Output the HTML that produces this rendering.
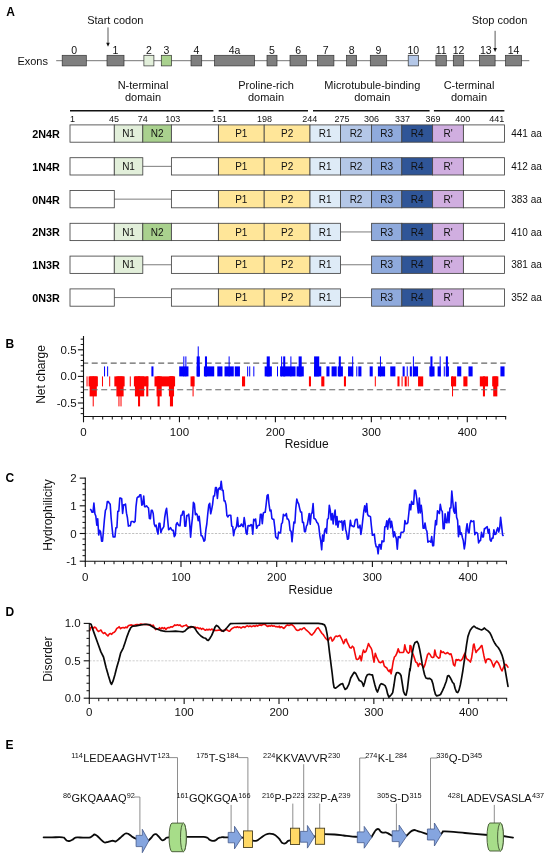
<!DOCTYPE html>
<html><head><meta charset="utf-8"><title>Tau isoforms figure</title>
<style>html,body{margin:0;padding:0;background:#fff}svg{display:block}text{font-family:"Liberation Sans",Arial,sans-serif}</style>
</head><body>
<svg width="550" height="858" viewBox="0 0 550 858">
<rect width="550" height="858" fill="#fff"/>
<text x="6.20" y="15.60" font-size="12" text-anchor="start" font-weight="bold" fill="#000" >A</text>
<text x="115.30" y="24.00" font-size="11" text-anchor="middle" font-weight="normal" fill="#111" >Start codon</text>
<text x="499.60" y="24.00" font-size="11" text-anchor="middle" font-weight="normal" fill="#111" >Stop codon</text>
<text x="17.40" y="64.60" font-size="11" text-anchor="start" font-weight="normal" fill="#111" >Exons</text>
<line x1="56.20" y1="60.70" x2="529.30" y2="60.70" stroke="#666" stroke-width="0.9" />
<rect x="62.20" y="55.30" width="24.10" height="10.60" fill="#7f7f7f" stroke="#333" stroke-width="0.7" />
<text x="74.25" y="53.80" font-size="10.5" text-anchor="middle" font-weight="normal" fill="#111" >0</text>
<rect x="107.00" y="55.30" width="17.00" height="10.60" fill="#7f7f7f" stroke="#333" stroke-width="0.7" />
<text x="115.50" y="53.80" font-size="10.5" text-anchor="middle" font-weight="normal" fill="#111" >1</text>
<rect x="143.90" y="55.30" width="10.00" height="10.60" fill="#e2efda" stroke="#333" stroke-width="0.7" />
<text x="148.90" y="53.80" font-size="10.5" text-anchor="middle" font-weight="normal" fill="#111" >2</text>
<rect x="161.30" y="55.30" width="10.30" height="10.60" fill="#a9d18e" stroke="#333" stroke-width="0.7" />
<text x="166.45" y="53.80" font-size="10.5" text-anchor="middle" font-weight="normal" fill="#111" >3</text>
<rect x="191.00" y="55.30" width="10.70" height="10.60" fill="#7f7f7f" stroke="#333" stroke-width="0.7" />
<text x="196.35" y="53.80" font-size="10.5" text-anchor="middle" font-weight="normal" fill="#111" >4</text>
<rect x="214.50" y="55.30" width="40.10" height="10.60" fill="#7f7f7f" stroke="#333" stroke-width="0.7" />
<text x="234.55" y="53.80" font-size="10.5" text-anchor="middle" font-weight="normal" fill="#111" >4a</text>
<rect x="267.00" y="55.30" width="10.00" height="10.60" fill="#7f7f7f" stroke="#333" stroke-width="0.7" />
<text x="272.00" y="53.80" font-size="10.5" text-anchor="middle" font-weight="normal" fill="#111" >5</text>
<rect x="290.00" y="55.30" width="16.50" height="10.60" fill="#7f7f7f" stroke="#333" stroke-width="0.7" />
<text x="298.25" y="53.80" font-size="10.5" text-anchor="middle" font-weight="normal" fill="#111" >6</text>
<rect x="317.50" y="55.30" width="16.40" height="10.60" fill="#7f7f7f" stroke="#333" stroke-width="0.7" />
<text x="325.70" y="53.80" font-size="10.5" text-anchor="middle" font-weight="normal" fill="#111" >7</text>
<rect x="346.60" y="55.30" width="10.00" height="10.60" fill="#7f7f7f" stroke="#333" stroke-width="0.7" />
<text x="351.60" y="53.80" font-size="10.5" text-anchor="middle" font-weight="normal" fill="#111" >8</text>
<rect x="370.30" y="55.30" width="16.40" height="10.60" fill="#7f7f7f" stroke="#333" stroke-width="0.7" />
<text x="378.50" y="53.80" font-size="10.5" text-anchor="middle" font-weight="normal" fill="#111" >9</text>
<rect x="408.20" y="55.30" width="10.30" height="10.60" fill="#b4c7e7" stroke="#333" stroke-width="0.7" />
<text x="413.35" y="53.80" font-size="10.5" text-anchor="middle" font-weight="normal" fill="#111" >10</text>
<rect x="435.90" y="55.30" width="10.40" height="10.60" fill="#7f7f7f" stroke="#333" stroke-width="0.7" />
<text x="441.10" y="53.80" font-size="10.5" text-anchor="middle" font-weight="normal" fill="#111" >11</text>
<rect x="453.30" y="55.30" width="10.40" height="10.60" fill="#7f7f7f" stroke="#333" stroke-width="0.7" />
<text x="458.50" y="53.80" font-size="10.5" text-anchor="middle" font-weight="normal" fill="#111" >12</text>
<rect x="479.40" y="55.30" width="15.70" height="10.60" fill="#7f7f7f" stroke="#333" stroke-width="0.7" />
<text x="485.75" y="53.80" font-size="10.5" text-anchor="middle" font-weight="normal" fill="#111" >13</text>
<rect x="505.50" y="55.30" width="16.10" height="10.60" fill="#7f7f7f" stroke="#333" stroke-width="0.7" />
<text x="513.55" y="53.80" font-size="10.5" text-anchor="middle" font-weight="normal" fill="#111" >14</text>
<line x1="108.00" y1="27.40" x2="108.00" y2="44.80" stroke="#111" stroke-width="0.7" />
<path d="M106.20 42.80 L108.00 46.80 L109.80 42.80 Z" fill="#111"/>
<line x1="495.10" y1="30.80" x2="495.10" y2="49.90" stroke="#111" stroke-width="0.7" />
<path d="M493.30 47.90 L495.10 51.90 L496.90 47.90 Z" fill="#111"/>
<text x="143.00" y="88.70" font-size="11" text-anchor="middle" font-weight="normal" fill="#111" >N-terminal</text>
<text x="143.00" y="101.40" font-size="11" text-anchor="middle" font-weight="normal" fill="#111" >domain</text>
<text x="266.00" y="88.70" font-size="11" text-anchor="middle" font-weight="normal" fill="#111" >Proline-rich</text>
<text x="266.00" y="101.40" font-size="11" text-anchor="middle" font-weight="normal" fill="#111" >domain</text>
<text x="372.30" y="88.70" font-size="11" text-anchor="middle" font-weight="normal" fill="#111" >Microtubule-binding</text>
<text x="372.30" y="101.40" font-size="11" text-anchor="middle" font-weight="normal" fill="#111" >domain</text>
<text x="469.00" y="88.70" font-size="11" text-anchor="middle" font-weight="normal" fill="#111" >C-terminal</text>
<text x="469.00" y="101.40" font-size="11" text-anchor="middle" font-weight="normal" fill="#111" >domain</text>
<line x1="70.00" y1="110.80" x2="213.40" y2="110.80" stroke="#111" stroke-width="1.6" />
<line x1="218.70" y1="110.80" x2="308.00" y2="110.80" stroke="#111" stroke-width="1.6" />
<line x1="313.00" y1="110.80" x2="429.60" y2="110.80" stroke="#111" stroke-width="1.6" />
<line x1="433.90" y1="110.80" x2="504.40" y2="110.80" stroke="#111" stroke-width="1.6" />
<text x="70.00" y="121.80" font-size="9" text-anchor="start" font-weight="normal" fill="#111" >1</text>
<text x="113.90" y="121.80" font-size="9" text-anchor="middle" font-weight="normal" fill="#111" >45</text>
<text x="142.70" y="121.80" font-size="9" text-anchor="middle" font-weight="normal" fill="#111" >74</text>
<text x="172.80" y="121.80" font-size="9" text-anchor="middle" font-weight="normal" fill="#111" >103</text>
<text x="219.50" y="121.80" font-size="9" text-anchor="middle" font-weight="normal" fill="#111" >151</text>
<text x="264.60" y="121.80" font-size="9" text-anchor="middle" font-weight="normal" fill="#111" >198</text>
<text x="309.70" y="121.80" font-size="9" text-anchor="middle" font-weight="normal" fill="#111" >244</text>
<text x="341.90" y="121.80" font-size="9" text-anchor="middle" font-weight="normal" fill="#111" >275</text>
<text x="371.60" y="121.80" font-size="9" text-anchor="middle" font-weight="normal" fill="#111" >306</text>
<text x="402.50" y="121.80" font-size="9" text-anchor="middle" font-weight="normal" fill="#111" >337</text>
<text x="432.90" y="121.80" font-size="9" text-anchor="middle" font-weight="normal" fill="#111" >369</text>
<text x="462.70" y="121.80" font-size="9" text-anchor="middle" font-weight="normal" fill="#111" >400</text>
<text x="504.30" y="121.80" font-size="9" text-anchor="end" font-weight="normal" fill="#111" >441</text>
<text x="32.30" y="137.90" font-size="10.8" text-anchor="start" font-weight="bold" fill="#000" >2N4R</text>
<text x="511.20" y="137.15" font-size="10" text-anchor="start" font-weight="normal" fill="#111" >441 aa</text>
<rect x="70.00" y="124.90" width="44.30" height="17.30" fill="#fff" stroke="#444" stroke-width="0.85" />
<rect x="114.30" y="124.90" width="28.50" height="17.30" fill="#e2efda" stroke="#444" stroke-width="0.85" />
<text x="128.55" y="137.15" font-size="10" text-anchor="middle" font-weight="normal" fill="#111" >N1</text>
<rect x="142.80" y="124.90" width="28.60" height="17.30" fill="#a9d18e" stroke="#444" stroke-width="0.85" />
<text x="157.10" y="137.15" font-size="10" text-anchor="middle" font-weight="normal" fill="#111" >N2</text>
<rect x="171.40" y="124.90" width="47.00" height="17.30" fill="#fff" stroke="#444" stroke-width="0.85" />
<rect x="218.40" y="124.90" width="45.80" height="17.30" fill="#ffe699" stroke="#444" stroke-width="0.85" />
<text x="241.30" y="137.15" font-size="10" text-anchor="middle" font-weight="normal" fill="#111" >P1</text>
<rect x="264.20" y="124.90" width="45.80" height="17.30" fill="#ffe699" stroke="#444" stroke-width="0.85" />
<text x="287.10" y="137.15" font-size="10" text-anchor="middle" font-weight="normal" fill="#111" >P2</text>
<rect x="310.00" y="124.90" width="30.50" height="17.30" fill="#deebf7" stroke="#444" stroke-width="0.85" />
<text x="325.25" y="137.15" font-size="10" text-anchor="middle" font-weight="normal" fill="#111" >R1</text>
<rect x="340.50" y="124.90" width="31.10" height="17.30" fill="#b4c7e7" stroke="#444" stroke-width="0.85" />
<text x="356.05" y="137.15" font-size="10" text-anchor="middle" font-weight="normal" fill="#111" >R2</text>
<rect x="371.60" y="124.90" width="30.20" height="17.30" fill="#8faadc" stroke="#444" stroke-width="0.85" />
<text x="386.70" y="137.15" font-size="10" text-anchor="middle" font-weight="normal" fill="#111" >R3</text>
<rect x="401.80" y="124.90" width="30.80" height="17.30" fill="#2f5597" stroke="#444" stroke-width="0.85" />
<text x="417.20" y="137.15" font-size="10" text-anchor="middle" font-weight="normal" fill="#111" >R4</text>
<rect x="432.60" y="124.90" width="30.80" height="17.30" fill="#d0aee0" stroke="#444" stroke-width="0.85" />
<text x="448.00" y="137.15" font-size="10" text-anchor="middle" font-weight="normal" fill="#111" >R'</text>
<rect x="463.40" y="124.90" width="41.10" height="17.30" fill="#fff" stroke="#444" stroke-width="0.85" />
<text x="32.30" y="170.70" font-size="10.8" text-anchor="start" font-weight="bold" fill="#000" >1N4R</text>
<text x="511.20" y="169.95" font-size="10" text-anchor="start" font-weight="normal" fill="#111" >412 aa</text>
<rect x="70.00" y="157.70" width="44.30" height="17.30" fill="#fff" stroke="#444" stroke-width="0.85" />
<rect x="114.30" y="157.70" width="28.50" height="17.30" fill="#e2efda" stroke="#444" stroke-width="0.85" />
<text x="128.55" y="169.95" font-size="10" text-anchor="middle" font-weight="normal" fill="#111" >N1</text>
<line x1="142.80" y1="166.35" x2="171.40" y2="166.35" stroke="#444" stroke-width="0.7" />
<rect x="171.40" y="157.70" width="47.00" height="17.30" fill="#fff" stroke="#444" stroke-width="0.85" />
<rect x="218.40" y="157.70" width="45.80" height="17.30" fill="#ffe699" stroke="#444" stroke-width="0.85" />
<text x="241.30" y="169.95" font-size="10" text-anchor="middle" font-weight="normal" fill="#111" >P1</text>
<rect x="264.20" y="157.70" width="45.80" height="17.30" fill="#ffe699" stroke="#444" stroke-width="0.85" />
<text x="287.10" y="169.95" font-size="10" text-anchor="middle" font-weight="normal" fill="#111" >P2</text>
<rect x="310.00" y="157.70" width="30.50" height="17.30" fill="#deebf7" stroke="#444" stroke-width="0.85" />
<text x="325.25" y="169.95" font-size="10" text-anchor="middle" font-weight="normal" fill="#111" >R1</text>
<rect x="340.50" y="157.70" width="31.10" height="17.30" fill="#b4c7e7" stroke="#444" stroke-width="0.85" />
<text x="356.05" y="169.95" font-size="10" text-anchor="middle" font-weight="normal" fill="#111" >R2</text>
<rect x="371.60" y="157.70" width="30.20" height="17.30" fill="#8faadc" stroke="#444" stroke-width="0.85" />
<text x="386.70" y="169.95" font-size="10" text-anchor="middle" font-weight="normal" fill="#111" >R3</text>
<rect x="401.80" y="157.70" width="30.80" height="17.30" fill="#2f5597" stroke="#444" stroke-width="0.85" />
<text x="417.20" y="169.95" font-size="10" text-anchor="middle" font-weight="normal" fill="#111" >R4</text>
<rect x="432.60" y="157.70" width="30.80" height="17.30" fill="#d0aee0" stroke="#444" stroke-width="0.85" />
<text x="448.00" y="169.95" font-size="10" text-anchor="middle" font-weight="normal" fill="#111" >R'</text>
<rect x="463.40" y="157.70" width="41.10" height="17.30" fill="#fff" stroke="#444" stroke-width="0.85" />
<text x="32.30" y="203.50" font-size="10.8" text-anchor="start" font-weight="bold" fill="#000" >0N4R</text>
<text x="511.20" y="202.75" font-size="10" text-anchor="start" font-weight="normal" fill="#111" >383 aa</text>
<rect x="70.00" y="190.50" width="44.30" height="17.30" fill="#fff" stroke="#444" stroke-width="0.85" />
<line x1="114.30" y1="199.15" x2="171.40" y2="199.15" stroke="#444" stroke-width="0.7" />
<rect x="171.40" y="190.50" width="47.00" height="17.30" fill="#fff" stroke="#444" stroke-width="0.85" />
<rect x="218.40" y="190.50" width="45.80" height="17.30" fill="#ffe699" stroke="#444" stroke-width="0.85" />
<text x="241.30" y="202.75" font-size="10" text-anchor="middle" font-weight="normal" fill="#111" >P1</text>
<rect x="264.20" y="190.50" width="45.80" height="17.30" fill="#ffe699" stroke="#444" stroke-width="0.85" />
<text x="287.10" y="202.75" font-size="10" text-anchor="middle" font-weight="normal" fill="#111" >P2</text>
<rect x="310.00" y="190.50" width="30.50" height="17.30" fill="#deebf7" stroke="#444" stroke-width="0.85" />
<text x="325.25" y="202.75" font-size="10" text-anchor="middle" font-weight="normal" fill="#111" >R1</text>
<rect x="340.50" y="190.50" width="31.10" height="17.30" fill="#b4c7e7" stroke="#444" stroke-width="0.85" />
<text x="356.05" y="202.75" font-size="10" text-anchor="middle" font-weight="normal" fill="#111" >R2</text>
<rect x="371.60" y="190.50" width="30.20" height="17.30" fill="#8faadc" stroke="#444" stroke-width="0.85" />
<text x="386.70" y="202.75" font-size="10" text-anchor="middle" font-weight="normal" fill="#111" >R3</text>
<rect x="401.80" y="190.50" width="30.80" height="17.30" fill="#2f5597" stroke="#444" stroke-width="0.85" />
<text x="417.20" y="202.75" font-size="10" text-anchor="middle" font-weight="normal" fill="#111" >R4</text>
<rect x="432.60" y="190.50" width="30.80" height="17.30" fill="#d0aee0" stroke="#444" stroke-width="0.85" />
<text x="448.00" y="202.75" font-size="10" text-anchor="middle" font-weight="normal" fill="#111" >R'</text>
<rect x="463.40" y="190.50" width="41.10" height="17.30" fill="#fff" stroke="#444" stroke-width="0.85" />
<text x="32.30" y="236.30" font-size="10.8" text-anchor="start" font-weight="bold" fill="#000" >2N3R</text>
<text x="511.20" y="235.55" font-size="10" text-anchor="start" font-weight="normal" fill="#111" >410 aa</text>
<rect x="70.00" y="223.30" width="44.30" height="17.30" fill="#fff" stroke="#444" stroke-width="0.85" />
<rect x="114.30" y="223.30" width="28.50" height="17.30" fill="#e2efda" stroke="#444" stroke-width="0.85" />
<text x="128.55" y="235.55" font-size="10" text-anchor="middle" font-weight="normal" fill="#111" >N1</text>
<rect x="142.80" y="223.30" width="28.60" height="17.30" fill="#a9d18e" stroke="#444" stroke-width="0.85" />
<text x="157.10" y="235.55" font-size="10" text-anchor="middle" font-weight="normal" fill="#111" >N2</text>
<rect x="171.40" y="223.30" width="47.00" height="17.30" fill="#fff" stroke="#444" stroke-width="0.85" />
<rect x="218.40" y="223.30" width="45.80" height="17.30" fill="#ffe699" stroke="#444" stroke-width="0.85" />
<text x="241.30" y="235.55" font-size="10" text-anchor="middle" font-weight="normal" fill="#111" >P1</text>
<rect x="264.20" y="223.30" width="45.80" height="17.30" fill="#ffe699" stroke="#444" stroke-width="0.85" />
<text x="287.10" y="235.55" font-size="10" text-anchor="middle" font-weight="normal" fill="#111" >P2</text>
<rect x="310.00" y="223.30" width="30.50" height="17.30" fill="#deebf7" stroke="#444" stroke-width="0.85" />
<text x="325.25" y="235.55" font-size="10" text-anchor="middle" font-weight="normal" fill="#111" >R1</text>
<line x1="340.50" y1="231.95" x2="371.60" y2="231.95" stroke="#444" stroke-width="0.7" />
<rect x="371.60" y="223.30" width="30.20" height="17.30" fill="#8faadc" stroke="#444" stroke-width="0.85" />
<text x="386.70" y="235.55" font-size="10" text-anchor="middle" font-weight="normal" fill="#111" >R3</text>
<rect x="401.80" y="223.30" width="30.80" height="17.30" fill="#2f5597" stroke="#444" stroke-width="0.85" />
<text x="417.20" y="235.55" font-size="10" text-anchor="middle" font-weight="normal" fill="#111" >R4</text>
<rect x="432.60" y="223.30" width="30.80" height="17.30" fill="#d0aee0" stroke="#444" stroke-width="0.85" />
<text x="448.00" y="235.55" font-size="10" text-anchor="middle" font-weight="normal" fill="#111" >R'</text>
<rect x="463.40" y="223.30" width="41.10" height="17.30" fill="#fff" stroke="#444" stroke-width="0.85" />
<text x="32.30" y="269.10" font-size="10.8" text-anchor="start" font-weight="bold" fill="#000" >1N3R</text>
<text x="511.20" y="268.35" font-size="10" text-anchor="start" font-weight="normal" fill="#111" >381 aa</text>
<rect x="70.00" y="256.10" width="44.30" height="17.30" fill="#fff" stroke="#444" stroke-width="0.85" />
<rect x="114.30" y="256.10" width="28.50" height="17.30" fill="#e2efda" stroke="#444" stroke-width="0.85" />
<text x="128.55" y="268.35" font-size="10" text-anchor="middle" font-weight="normal" fill="#111" >N1</text>
<line x1="142.80" y1="264.75" x2="171.40" y2="264.75" stroke="#444" stroke-width="0.7" />
<rect x="171.40" y="256.10" width="47.00" height="17.30" fill="#fff" stroke="#444" stroke-width="0.85" />
<rect x="218.40" y="256.10" width="45.80" height="17.30" fill="#ffe699" stroke="#444" stroke-width="0.85" />
<text x="241.30" y="268.35" font-size="10" text-anchor="middle" font-weight="normal" fill="#111" >P1</text>
<rect x="264.20" y="256.10" width="45.80" height="17.30" fill="#ffe699" stroke="#444" stroke-width="0.85" />
<text x="287.10" y="268.35" font-size="10" text-anchor="middle" font-weight="normal" fill="#111" >P2</text>
<rect x="310.00" y="256.10" width="30.50" height="17.30" fill="#deebf7" stroke="#444" stroke-width="0.85" />
<text x="325.25" y="268.35" font-size="10" text-anchor="middle" font-weight="normal" fill="#111" >R1</text>
<line x1="340.50" y1="264.75" x2="371.60" y2="264.75" stroke="#444" stroke-width="0.7" />
<rect x="371.60" y="256.10" width="30.20" height="17.30" fill="#8faadc" stroke="#444" stroke-width="0.85" />
<text x="386.70" y="268.35" font-size="10" text-anchor="middle" font-weight="normal" fill="#111" >R3</text>
<rect x="401.80" y="256.10" width="30.80" height="17.30" fill="#2f5597" stroke="#444" stroke-width="0.85" />
<text x="417.20" y="268.35" font-size="10" text-anchor="middle" font-weight="normal" fill="#111" >R4</text>
<rect x="432.60" y="256.10" width="30.80" height="17.30" fill="#d0aee0" stroke="#444" stroke-width="0.85" />
<text x="448.00" y="268.35" font-size="10" text-anchor="middle" font-weight="normal" fill="#111" >R'</text>
<rect x="463.40" y="256.10" width="41.10" height="17.30" fill="#fff" stroke="#444" stroke-width="0.85" />
<text x="32.30" y="301.90" font-size="10.8" text-anchor="start" font-weight="bold" fill="#000" >0N3R</text>
<text x="511.20" y="301.15" font-size="10" text-anchor="start" font-weight="normal" fill="#111" >352 aa</text>
<rect x="70.00" y="288.90" width="44.30" height="17.30" fill="#fff" stroke="#444" stroke-width="0.85" />
<line x1="114.30" y1="297.55" x2="171.40" y2="297.55" stroke="#444" stroke-width="0.7" />
<rect x="171.40" y="288.90" width="47.00" height="17.30" fill="#fff" stroke="#444" stroke-width="0.85" />
<rect x="218.40" y="288.90" width="45.80" height="17.30" fill="#ffe699" stroke="#444" stroke-width="0.85" />
<text x="241.30" y="301.15" font-size="10" text-anchor="middle" font-weight="normal" fill="#111" >P1</text>
<rect x="264.20" y="288.90" width="45.80" height="17.30" fill="#ffe699" stroke="#444" stroke-width="0.85" />
<text x="287.10" y="301.15" font-size="10" text-anchor="middle" font-weight="normal" fill="#111" >P2</text>
<rect x="310.00" y="288.90" width="30.50" height="17.30" fill="#deebf7" stroke="#444" stroke-width="0.85" />
<text x="325.25" y="301.15" font-size="10" text-anchor="middle" font-weight="normal" fill="#111" >R1</text>
<line x1="340.50" y1="297.55" x2="371.60" y2="297.55" stroke="#444" stroke-width="0.7" />
<rect x="371.60" y="288.90" width="30.20" height="17.30" fill="#8faadc" stroke="#444" stroke-width="0.85" />
<text x="386.70" y="301.15" font-size="10" text-anchor="middle" font-weight="normal" fill="#111" >R3</text>
<rect x="401.80" y="288.90" width="30.80" height="17.30" fill="#2f5597" stroke="#444" stroke-width="0.85" />
<text x="417.20" y="301.15" font-size="10" text-anchor="middle" font-weight="normal" fill="#111" >R4</text>
<rect x="432.60" y="288.90" width="30.80" height="17.30" fill="#d0aee0" stroke="#444" stroke-width="0.85" />
<text x="448.00" y="301.15" font-size="10" text-anchor="middle" font-weight="normal" fill="#111" >R'</text>
<rect x="463.40" y="288.90" width="41.10" height="17.30" fill="#fff" stroke="#444" stroke-width="0.85" />
<text x="5.60" y="348.40" font-size="12" text-anchor="start" font-weight="bold" fill="#000" >B</text>
<rect x="86.54" y="376.40" width="1.00" height="10.00" fill="#ff0000"/>
<rect x="88.60" y="376.40" width="9.27" height="10.00" fill="#ff0000"/>
<rect x="101.98" y="376.40" width="1.00" height="10.00" fill="#ff0000"/>
<rect x="109.19" y="376.40" width="1.00" height="10.00" fill="#ff0000"/>
<rect x="114.34" y="376.40" width="10.30" height="10.00" fill="#ff0000"/>
<rect x="129.78" y="376.40" width="1.00" height="10.00" fill="#ff0000"/>
<rect x="133.90" y="376.40" width="14.41" height="10.00" fill="#ff0000"/>
<rect x="154.49" y="376.40" width="20.59" height="10.00" fill="#ff0000"/>
<rect x="190.52" y="376.40" width="4.12" height="10.00" fill="#ff0000"/>
<rect x="242.00" y="376.40" width="3.09" height="10.00" fill="#ff0000"/>
<rect x="308.92" y="376.40" width="2.06" height="10.00" fill="#ff0000"/>
<rect x="321.27" y="376.40" width="3.09" height="10.00" fill="#ff0000"/>
<rect x="343.92" y="376.40" width="2.06" height="10.00" fill="#ff0000"/>
<rect x="374.81" y="376.40" width="1.00" height="10.00" fill="#ff0000"/>
<rect x="397.46" y="376.40" width="2.06" height="10.00" fill="#ff0000"/>
<rect x="401.58" y="376.40" width="1.00" height="10.00" fill="#ff0000"/>
<rect x="404.67" y="376.40" width="2.06" height="10.00" fill="#ff0000"/>
<rect x="407.76" y="376.40" width="1.00" height="10.00" fill="#ff0000"/>
<rect x="418.05" y="376.40" width="5.15" height="10.00" fill="#ff0000"/>
<rect x="451.00" y="376.40" width="5.15" height="10.00" fill="#ff0000"/>
<rect x="463.35" y="376.40" width="4.12" height="10.00" fill="#ff0000"/>
<rect x="479.82" y="376.40" width="8.24" height="10.00" fill="#ff0000"/>
<rect x="492.18" y="376.40" width="6.18" height="10.00" fill="#ff0000"/>
<rect x="89.63" y="376.40" width="7.21" height="20.00" fill="#ff0000"/>
<rect x="116.40" y="376.40" width="7.21" height="20.00" fill="#ff0000"/>
<rect x="134.93" y="376.40" width="9.27" height="20.00" fill="#ff0000"/>
<rect x="146.25" y="376.40" width="2.06" height="20.00" fill="#ff0000"/>
<rect x="156.55" y="376.40" width="5.15" height="20.00" fill="#ff0000"/>
<rect x="168.90" y="376.40" width="5.15" height="20.00" fill="#ff0000"/>
<rect x="192.58" y="376.40" width="1.00" height="20.00" fill="#ff0000"/>
<rect x="452.03" y="376.40" width="1.00" height="20.00" fill="#ff0000"/>
<rect x="482.91" y="376.40" width="2.06" height="20.00" fill="#ff0000"/>
<rect x="493.21" y="376.40" width="4.12" height="20.00" fill="#ff0000"/>
<rect x="92.72" y="376.40" width="1.00" height="30.00" fill="#ff0000"/>
<rect x="118.45" y="376.40" width="1.00" height="30.00" fill="#ff0000"/>
<rect x="120.51" y="376.40" width="1.00" height="30.00" fill="#ff0000"/>
<rect x="138.02" y="376.40" width="2.06" height="30.00" fill="#ff0000"/>
<rect x="157.58" y="376.40" width="2.06" height="30.00" fill="#ff0000"/>
<rect x="169.93" y="376.40" width="3.09" height="30.00" fill="#ff0000"/>
<line x1="83.50" y1="363.10" x2="505.70" y2="363.10" stroke="#666" stroke-width="1.1" stroke-dasharray="6 3.5" stroke-dashoffset="1.3"/>
<line x1="83.50" y1="389.70" x2="505.70" y2="389.70" stroke="#666" stroke-width="1.1" stroke-dasharray="6 3.5" stroke-dashoffset="1.3"/>
<rect x="104.04" y="366.40" width="1.00" height="10.00" fill="#0000ff"/>
<rect x="107.13" y="366.40" width="1.00" height="10.00" fill="#0000ff"/>
<rect x="151.40" y="366.40" width="2.06" height="10.00" fill="#0000ff"/>
<rect x="179.20" y="366.40" width="9.27" height="10.00" fill="#0000ff"/>
<rect x="196.70" y="366.40" width="3.09" height="10.00" fill="#0000ff"/>
<rect x="203.91" y="366.40" width="10.30" height="10.00" fill="#0000ff"/>
<rect x="217.29" y="366.40" width="5.15" height="10.00" fill="#0000ff"/>
<rect x="224.50" y="366.40" width="9.27" height="10.00" fill="#0000ff"/>
<rect x="234.79" y="366.40" width="5.15" height="10.00" fill="#0000ff"/>
<rect x="247.15" y="366.40" width="1.00" height="10.00" fill="#0000ff"/>
<rect x="249.21" y="366.40" width="1.00" height="10.00" fill="#0000ff"/>
<rect x="253.32" y="366.40" width="1.00" height="10.00" fill="#0000ff"/>
<rect x="264.65" y="366.40" width="7.21" height="10.00" fill="#0000ff"/>
<rect x="277.00" y="366.40" width="1.00" height="10.00" fill="#0000ff"/>
<rect x="280.09" y="366.40" width="15.44" height="10.00" fill="#0000ff"/>
<rect x="296.57" y="366.40" width="7.21" height="10.00" fill="#0000ff"/>
<rect x="314.07" y="366.40" width="7.21" height="10.00" fill="#0000ff"/>
<rect x="326.42" y="366.40" width="3.09" height="10.00" fill="#0000ff"/>
<rect x="331.57" y="366.40" width="5.15" height="10.00" fill="#0000ff"/>
<rect x="337.75" y="366.40" width="5.15" height="10.00" fill="#0000ff"/>
<rect x="348.04" y="366.40" width="5.15" height="10.00" fill="#0000ff"/>
<rect x="356.28" y="366.40" width="1.00" height="10.00" fill="#0000ff"/>
<rect x="358.34" y="366.40" width="3.09" height="10.00" fill="#0000ff"/>
<rect x="369.66" y="366.40" width="3.09" height="10.00" fill="#0000ff"/>
<rect x="377.90" y="366.40" width="7.21" height="10.00" fill="#0000ff"/>
<rect x="390.25" y="366.40" width="5.15" height="10.00" fill="#0000ff"/>
<rect x="402.61" y="366.40" width="2.06" height="10.00" fill="#0000ff"/>
<rect x="406.73" y="366.40" width="1.00" height="10.00" fill="#0000ff"/>
<rect x="409.82" y="366.40" width="2.06" height="10.00" fill="#0000ff"/>
<rect x="412.90" y="366.40" width="5.15" height="10.00" fill="#0000ff"/>
<rect x="429.38" y="366.40" width="5.15" height="10.00" fill="#0000ff"/>
<rect x="437.61" y="366.40" width="3.09" height="10.00" fill="#0000ff"/>
<rect x="443.79" y="366.40" width="1.00" height="10.00" fill="#0000ff"/>
<rect x="445.85" y="366.40" width="3.09" height="10.00" fill="#0000ff"/>
<rect x="457.17" y="366.40" width="4.12" height="10.00" fill="#0000ff"/>
<rect x="468.50" y="366.40" width="4.12" height="10.00" fill="#0000ff"/>
<rect x="500.42" y="366.40" width="4.12" height="10.00" fill="#0000ff"/>
<rect x="183.32" y="356.40" width="1.00" height="20.00" fill="#0000ff"/>
<rect x="185.37" y="356.40" width="1.00" height="20.00" fill="#0000ff"/>
<rect x="196.70" y="356.40" width="3.09" height="20.00" fill="#0000ff"/>
<rect x="204.94" y="356.40" width="2.06" height="20.00" fill="#0000ff"/>
<rect x="228.62" y="356.40" width="1.00" height="20.00" fill="#0000ff"/>
<rect x="266.71" y="356.40" width="3.09" height="20.00" fill="#0000ff"/>
<rect x="281.12" y="356.40" width="1.00" height="20.00" fill="#0000ff"/>
<rect x="283.18" y="356.40" width="2.06" height="20.00" fill="#0000ff"/>
<rect x="290.39" y="356.40" width="1.00" height="20.00" fill="#0000ff"/>
<rect x="298.62" y="356.40" width="3.09" height="20.00" fill="#0000ff"/>
<rect x="314.07" y="356.40" width="5.15" height="20.00" fill="#0000ff"/>
<rect x="338.78" y="356.40" width="2.06" height="20.00" fill="#0000ff"/>
<rect x="352.16" y="356.40" width="1.00" height="20.00" fill="#0000ff"/>
<rect x="379.96" y="356.40" width="1.00" height="20.00" fill="#0000ff"/>
<rect x="412.90" y="356.40" width="1.00" height="20.00" fill="#0000ff"/>
<rect x="430.41" y="356.40" width="2.06" height="20.00" fill="#0000ff"/>
<rect x="439.67" y="356.40" width="1.00" height="20.00" fill="#0000ff"/>
<rect x="445.85" y="356.40" width="2.06" height="20.00" fill="#0000ff"/>
<rect x="197.73" y="346.40" width="1.00" height="30.00" fill="#0000ff"/>
<line x1="83.50" y1="336.00" x2="83.50" y2="417.00" stroke="#111" stroke-width="1.1" />
<line x1="83.00" y1="416.50" x2="506.18" y2="416.50" stroke="#111" stroke-width="1.1" />
<line x1="77.90" y1="349.80" x2="83.50" y2="349.80" stroke="#111" stroke-width="1.1" />
<text x="76.60" y="353.80" font-size="11.5" text-anchor="end" font-weight="normal" fill="#111" >0.5</text>
<line x1="77.90" y1="376.40" x2="83.50" y2="376.40" stroke="#111" stroke-width="1.1" />
<text x="76.60" y="380.40" font-size="11.5" text-anchor="end" font-weight="normal" fill="#111" >0.0</text>
<line x1="77.90" y1="403.00" x2="83.50" y2="403.00" stroke="#111" stroke-width="1.1" />
<text x="76.60" y="407.00" font-size="11.5" text-anchor="end" font-weight="normal" fill="#111" >-0.5</text>
<line x1="80.70" y1="339.16" x2="83.50" y2="339.16" stroke="#111" stroke-width="1.0" />
<line x1="80.70" y1="344.48" x2="83.50" y2="344.48" stroke="#111" stroke-width="1.0" />
<line x1="80.70" y1="355.12" x2="83.50" y2="355.12" stroke="#111" stroke-width="1.0" />
<line x1="80.70" y1="360.44" x2="83.50" y2="360.44" stroke="#111" stroke-width="1.0" />
<line x1="80.70" y1="365.76" x2="83.50" y2="365.76" stroke="#111" stroke-width="1.0" />
<line x1="80.70" y1="371.08" x2="83.50" y2="371.08" stroke="#111" stroke-width="1.0" />
<line x1="80.70" y1="381.72" x2="83.50" y2="381.72" stroke="#111" stroke-width="1.0" />
<line x1="80.70" y1="387.04" x2="83.50" y2="387.04" stroke="#111" stroke-width="1.0" />
<line x1="80.70" y1="392.36" x2="83.50" y2="392.36" stroke="#111" stroke-width="1.0" />
<line x1="80.70" y1="397.68" x2="83.50" y2="397.68" stroke="#111" stroke-width="1.0" />
<line x1="80.70" y1="408.32" x2="83.50" y2="408.32" stroke="#111" stroke-width="1.0" />
<line x1="80.70" y1="413.64" x2="83.50" y2="413.64" stroke="#111" stroke-width="1.0" />
<line x1="83.50" y1="416.50" x2="83.50" y2="422.30" stroke="#111" stroke-width="1.1" />
<text x="83.50" y="435.60" font-size="11.5" text-anchor="middle" font-weight="normal" fill="#111" >0</text>
<line x1="93.09" y1="416.50" x2="93.09" y2="419.50" stroke="#111" stroke-width="1.0" />
<line x1="102.69" y1="416.50" x2="102.69" y2="419.50" stroke="#111" stroke-width="1.0" />
<line x1="112.28" y1="416.50" x2="112.28" y2="419.50" stroke="#111" stroke-width="1.0" />
<line x1="121.88" y1="416.50" x2="121.88" y2="419.50" stroke="#111" stroke-width="1.0" />
<line x1="131.47" y1="416.50" x2="131.47" y2="419.50" stroke="#111" stroke-width="1.0" />
<line x1="141.07" y1="416.50" x2="141.07" y2="419.50" stroke="#111" stroke-width="1.0" />
<line x1="150.67" y1="416.50" x2="150.67" y2="419.50" stroke="#111" stroke-width="1.0" />
<line x1="160.26" y1="416.50" x2="160.26" y2="419.50" stroke="#111" stroke-width="1.0" />
<line x1="169.86" y1="416.50" x2="169.86" y2="419.50" stroke="#111" stroke-width="1.0" />
<line x1="179.45" y1="416.50" x2="179.45" y2="422.30" stroke="#111" stroke-width="1.1" />
<text x="179.45" y="435.60" font-size="11.5" text-anchor="middle" font-weight="normal" fill="#111" >100</text>
<line x1="189.05" y1="416.50" x2="189.05" y2="419.50" stroke="#111" stroke-width="1.0" />
<line x1="198.64" y1="416.50" x2="198.64" y2="419.50" stroke="#111" stroke-width="1.0" />
<line x1="208.24" y1="416.50" x2="208.24" y2="419.50" stroke="#111" stroke-width="1.0" />
<line x1="217.83" y1="416.50" x2="217.83" y2="419.50" stroke="#111" stroke-width="1.0" />
<line x1="227.43" y1="416.50" x2="227.43" y2="419.50" stroke="#111" stroke-width="1.0" />
<line x1="237.02" y1="416.50" x2="237.02" y2="419.50" stroke="#111" stroke-width="1.0" />
<line x1="246.62" y1="416.50" x2="246.62" y2="419.50" stroke="#111" stroke-width="1.0" />
<line x1="256.21" y1="416.50" x2="256.21" y2="419.50" stroke="#111" stroke-width="1.0" />
<line x1="265.81" y1="416.50" x2="265.81" y2="419.50" stroke="#111" stroke-width="1.0" />
<line x1="275.40" y1="416.50" x2="275.40" y2="422.30" stroke="#111" stroke-width="1.1" />
<text x="275.40" y="435.60" font-size="11.5" text-anchor="middle" font-weight="normal" fill="#111" >200</text>
<line x1="285.00" y1="416.50" x2="285.00" y2="419.50" stroke="#111" stroke-width="1.0" />
<line x1="294.59" y1="416.50" x2="294.59" y2="419.50" stroke="#111" stroke-width="1.0" />
<line x1="304.19" y1="416.50" x2="304.19" y2="419.50" stroke="#111" stroke-width="1.0" />
<line x1="313.78" y1="416.50" x2="313.78" y2="419.50" stroke="#111" stroke-width="1.0" />
<line x1="323.38" y1="416.50" x2="323.38" y2="419.50" stroke="#111" stroke-width="1.0" />
<line x1="332.97" y1="416.50" x2="332.97" y2="419.50" stroke="#111" stroke-width="1.0" />
<line x1="342.56" y1="416.50" x2="342.56" y2="419.50" stroke="#111" stroke-width="1.0" />
<line x1="352.16" y1="416.50" x2="352.16" y2="419.50" stroke="#111" stroke-width="1.0" />
<line x1="361.75" y1="416.50" x2="361.75" y2="419.50" stroke="#111" stroke-width="1.0" />
<line x1="371.35" y1="416.50" x2="371.35" y2="422.30" stroke="#111" stroke-width="1.1" />
<text x="371.35" y="435.60" font-size="11.5" text-anchor="middle" font-weight="normal" fill="#111" >300</text>
<line x1="380.94" y1="416.50" x2="380.94" y2="419.50" stroke="#111" stroke-width="1.0" />
<line x1="390.54" y1="416.50" x2="390.54" y2="419.50" stroke="#111" stroke-width="1.0" />
<line x1="400.13" y1="416.50" x2="400.13" y2="419.50" stroke="#111" stroke-width="1.0" />
<line x1="409.73" y1="416.50" x2="409.73" y2="419.50" stroke="#111" stroke-width="1.0" />
<line x1="419.32" y1="416.50" x2="419.32" y2="419.50" stroke="#111" stroke-width="1.0" />
<line x1="428.92" y1="416.50" x2="428.92" y2="419.50" stroke="#111" stroke-width="1.0" />
<line x1="438.51" y1="416.50" x2="438.51" y2="419.50" stroke="#111" stroke-width="1.0" />
<line x1="448.11" y1="416.50" x2="448.11" y2="419.50" stroke="#111" stroke-width="1.0" />
<line x1="457.70" y1="416.50" x2="457.70" y2="419.50" stroke="#111" stroke-width="1.0" />
<line x1="467.30" y1="416.50" x2="467.30" y2="422.30" stroke="#111" stroke-width="1.1" />
<text x="467.30" y="435.60" font-size="11.5" text-anchor="middle" font-weight="normal" fill="#111" >400</text>
<line x1="476.89" y1="416.50" x2="476.89" y2="419.50" stroke="#111" stroke-width="1.0" />
<line x1="486.49" y1="416.50" x2="486.49" y2="419.50" stroke="#111" stroke-width="1.0" />
<line x1="496.09" y1="416.50" x2="496.09" y2="419.50" stroke="#111" stroke-width="1.0" />
<line x1="505.68" y1="416.50" x2="505.68" y2="419.50" stroke="#111" stroke-width="1.0" />
<text transform="translate(44.50,374.50) rotate(-90)" font-size="12" text-anchor="middle" fill="#111">Net charge</text>
<text x="306.70" y="448.00" font-size="12" text-anchor="middle" font-weight="normal" fill="#111" >Residue</text>
<text x="5.60" y="482.00" font-size="12" text-anchor="start" font-weight="bold" fill="#000" >C</text>
<line x1="85.30" y1="533.50" x2="506.38" y2="533.50" stroke="#b0b0b0" stroke-width="0.8" stroke-dasharray="2.2 1.4"/>
<polyline fill="none" stroke="#1010f5" stroke-width="1.6" stroke-linejoin="round" points="90.1,509.2 91.0,509.8 92.0,512.3 93.0,512.3 93.9,503.0 94.9,513.8 95.8,516.0 96.8,525.2 97.7,518.7 98.7,535.0 99.7,530.4 100.6,532.0 101.6,541.2 102.5,541.2 103.5,530.4 104.4,519.6 105.4,510.4 106.4,508.6 107.3,501.5 108.3,501.5 109.2,503.0 110.2,504.3 111.1,517.5 112.1,528.3 113.1,536.9 114.0,536.9 115.0,536.9 115.9,527.7 116.9,527.7 117.8,511.3 118.8,511.3 119.8,498.1 120.7,498.1 121.7,498.7 122.6,513.5 123.6,504.9 124.5,504.9 125.5,504.0 126.5,513.2 127.4,517.5 128.4,526.1 129.3,525.8 130.3,525.8 131.2,521.5 132.2,521.5 133.2,521.5 134.1,522.4 135.1,521.5 136.0,506.7 137.0,498.1 137.9,496.9 138.9,496.9 139.8,494.7 140.8,494.7 141.8,505.2 142.7,504.3 143.7,496.0 144.6,506.7 145.6,506.7 146.5,505.8 147.5,507.0 148.5,508.0 149.4,518.4 150.4,518.7 151.3,510.4 152.3,510.4 153.2,513.5 154.2,524.0 155.2,526.4 156.1,525.2 157.1,530.7 158.0,534.1 159.0,523.3 159.9,523.3 160.9,532.6 161.9,529.5 162.8,528.3 163.8,526.7 164.7,517.5 165.7,511.3 166.6,508.3 167.6,519.0 168.6,529.8 169.5,529.2 170.5,527.7 171.4,529.2 172.4,530.4 173.3,530.4 174.3,536.6 175.3,535.0 176.2,524.3 177.2,522.7 178.1,524.6 179.1,525.8 180.0,525.8 181.0,515.3 182.0,515.3 182.9,511.3 183.9,511.3 184.8,526.1 185.8,526.1 186.7,515.6 187.7,515.6 188.7,514.1 189.6,522.4 190.6,537.2 191.5,526.4 192.5,517.2 193.4,502.4 194.4,504.0 195.4,514.7 196.3,513.5 197.3,515.0 198.2,520.6 199.2,516.3 200.1,524.9 201.1,535.7 202.1,535.7 203.0,538.1 204.0,541.2 204.9,540.3 205.9,529.5 206.8,524.0 207.8,513.5 208.8,504.9 209.7,503.3 210.7,513.8 211.6,509.8 212.6,504.3 213.5,496.0 214.5,496.0 215.5,487.6 216.4,487.6 217.4,498.4 218.3,489.2 219.3,487.9 220.2,489.5 221.2,481.2 222.2,490.4 223.1,490.4 224.1,500.9 225.0,500.9 226.0,504.9 226.9,515.6 227.9,516.9 228.8,515.3 229.8,515.3 230.8,515.3 231.7,526.1 232.7,526.4 233.6,535.7 234.6,530.1 235.5,528.6 236.5,526.7 237.5,517.5 238.4,526.7 239.4,526.1 240.3,526.1 241.3,524.0 242.2,525.5 243.2,526.7 244.2,517.5 245.1,523.7 246.1,532.9 247.0,534.4 248.0,525.8 248.9,525.5 249.9,526.1 250.9,524.6 251.8,524.9 252.8,534.1 253.7,519.3 254.7,520.6 255.6,519.0 256.6,528.3 257.6,526.1 258.5,525.2 259.5,525.2 260.4,514.4 261.4,514.4 262.3,523.7 263.3,513.2 264.3,512.3 265.2,512.3 266.2,504.0 267.1,495.6 268.1,494.7 269.0,504.0 270.0,511.0 271.0,510.1 271.9,518.4 272.9,519.3 273.8,519.3 274.8,527.7 275.7,536.9 276.7,537.8 277.7,539.0 278.6,532.0 279.6,532.9 280.5,532.9 281.5,523.7 282.4,522.7 283.4,514.4 284.4,515.6 285.3,515.6 286.3,513.5 287.2,519.0 288.2,519.0 289.1,521.2 290.1,530.4 291.1,531.3 292.0,541.8 293.0,531.3 293.9,522.1 294.9,523.0 295.8,508.3 296.8,499.0 297.8,502.4 298.7,504.0 299.7,508.6 300.6,512.0 301.6,512.0 302.5,522.4 303.5,522.4 304.5,531.7 305.4,531.7 306.4,526.1 307.3,524.6 308.3,519.0 309.2,513.5 310.2,524.3 311.2,513.8 312.1,512.9 313.1,503.6 314.0,518.4 315.0,518.7 315.9,520.0 316.9,522.4 317.9,523.3 318.8,526.4 319.8,535.7 320.7,540.6 321.7,549.8 322.6,535.0 323.6,541.2 324.6,530.7 325.5,528.6 326.5,533.2 327.4,519.3 328.4,518.4 329.3,505.2 330.3,510.7 331.2,520.0 332.2,513.5 333.2,524.0 334.1,515.3 335.1,510.1 336.0,524.9 337.0,516.6 337.9,527.3 338.9,521.2 339.9,521.2 340.8,522.1 341.8,520.9 342.7,530.1 343.7,521.5 344.6,520.6 345.6,529.2 346.6,533.2 347.5,539.3 348.5,538.7 349.4,529.5 350.4,520.3 351.3,525.8 352.3,525.8 353.3,526.7 354.2,526.4 355.2,520.3 356.1,519.3 357.1,519.3 358.0,527.7 359.0,527.7 360.0,525.2 360.9,534.4 361.9,528.0 362.8,519.6 363.8,511.0 364.7,505.8 365.7,512.0 366.7,503.6 367.6,514.4 368.6,516.0 369.5,516.0 370.5,516.9 371.4,526.1 372.4,535.3 373.4,535.0 374.3,534.1 375.3,542.7 376.2,546.7 377.2,546.7 378.1,553.8 379.1,544.6 380.1,544.6 381.0,549.2 382.0,540.9 382.9,541.8 383.9,541.5 384.8,526.7 385.8,526.7 386.8,520.9 387.7,529.2 388.7,520.0 389.6,518.4 390.6,527.7 391.5,521.2 392.5,527.7 393.5,536.9 394.4,531.7 395.4,536.0 396.3,538.4 397.3,549.2 398.2,536.9 399.2,536.9 400.2,537.8 401.1,532.3 402.1,532.3 403.0,532.3 404.0,531.3 404.9,520.6 405.9,523.7 406.9,523.7 407.8,522.7 408.8,513.5 409.7,504.3 410.7,509.8 411.6,501.2 412.6,504.3 413.6,504.3 414.5,490.4 415.5,490.4 416.4,496.0 417.4,504.6 418.3,512.9 419.3,498.1 420.2,512.9 421.2,505.2 422.2,513.5 423.1,528.3 424.1,528.3 425.0,523.0 426.0,529.2 426.9,531.3 427.9,542.1 428.9,541.2 429.8,541.2 430.8,542.1 431.7,536.6 432.7,545.8 433.6,545.8 434.6,531.0 435.6,520.6 436.5,524.6 437.5,510.7 438.4,512.0 439.4,513.5 440.3,504.3 441.3,509.8 442.3,511.6 443.2,528.6 444.2,528.6 445.1,513.8 446.1,522.4 447.0,522.7 448.0,512.0 449.0,522.7 449.9,508.0 450.9,508.0 451.8,491.0 452.8,501.8 453.7,511.0 454.7,513.2 455.7,502.4 456.6,517.2 457.6,520.3 458.5,536.6 459.5,526.1 460.4,534.4 461.4,532.9 462.4,537.5 463.3,540.6 464.3,548.9 465.2,543.3 466.2,529.5 467.1,523.7 468.1,532.0 469.1,532.9 470.0,523.7 471.0,520.6 471.9,521.5 472.9,521.5 473.8,520.9 474.8,534.7 475.8,532.6 476.7,532.6 477.7,533.8 478.6,543.0 479.6,540.6 480.5,540.6 481.5,532.3 482.5,536.9 483.4,536.9 484.4,528.6 485.3,528.6 486.3,527.3 487.2,526.7 488.2,533.2 489.2,529.2 490.1,539.7 491.1,541.2 492.0,538.1 493.0,538.1 493.9,529.8 494.9,534.4 495.9,534.1 496.8,530.1 497.8,527.7 498.7,532.0 499.7,528.0 500.6,517.2 501.6,525.8 502.6,535.0 503.5,536.0"/>
<line x1="85.30" y1="477.60" x2="85.30" y2="561.70" stroke="#111" stroke-width="1.1" />
<line x1="84.80" y1="561.20" x2="506.88" y2="561.20" stroke="#111" stroke-width="1.1" />
<line x1="79.70" y1="478.10" x2="85.30" y2="478.10" stroke="#111" stroke-width="1.1" />
<text x="76.60" y="482.10" font-size="11.5" text-anchor="end" font-weight="normal" fill="#111" >2</text>
<line x1="79.70" y1="505.80" x2="85.30" y2="505.80" stroke="#111" stroke-width="1.1" />
<text x="76.60" y="509.80" font-size="11.5" text-anchor="end" font-weight="normal" fill="#111" >1</text>
<line x1="79.70" y1="533.50" x2="85.30" y2="533.50" stroke="#111" stroke-width="1.1" />
<text x="76.60" y="537.50" font-size="11.5" text-anchor="end" font-weight="normal" fill="#111" >0</text>
<line x1="79.70" y1="561.20" x2="85.30" y2="561.20" stroke="#111" stroke-width="1.1" />
<text x="76.60" y="565.20" font-size="11.5" text-anchor="end" font-weight="normal" fill="#111" >-1</text>
<line x1="82.50" y1="483.64" x2="85.30" y2="483.64" stroke="#111" stroke-width="1.0" />
<line x1="82.50" y1="489.18" x2="85.30" y2="489.18" stroke="#111" stroke-width="1.0" />
<line x1="82.50" y1="494.72" x2="85.30" y2="494.72" stroke="#111" stroke-width="1.0" />
<line x1="82.50" y1="500.26" x2="85.30" y2="500.26" stroke="#111" stroke-width="1.0" />
<line x1="82.50" y1="511.34" x2="85.30" y2="511.34" stroke="#111" stroke-width="1.0" />
<line x1="82.50" y1="516.88" x2="85.30" y2="516.88" stroke="#111" stroke-width="1.0" />
<line x1="82.50" y1="522.42" x2="85.30" y2="522.42" stroke="#111" stroke-width="1.0" />
<line x1="82.50" y1="527.96" x2="85.30" y2="527.96" stroke="#111" stroke-width="1.0" />
<line x1="82.50" y1="539.04" x2="85.30" y2="539.04" stroke="#111" stroke-width="1.0" />
<line x1="82.50" y1="544.58" x2="85.30" y2="544.58" stroke="#111" stroke-width="1.0" />
<line x1="82.50" y1="550.12" x2="85.30" y2="550.12" stroke="#111" stroke-width="1.0" />
<line x1="82.50" y1="555.66" x2="85.30" y2="555.66" stroke="#111" stroke-width="1.0" />
<line x1="85.30" y1="561.20" x2="85.30" y2="567.00" stroke="#111" stroke-width="1.1" />
<text x="85.30" y="580.60" font-size="11.5" text-anchor="middle" font-weight="normal" fill="#111" >0</text>
<line x1="94.87" y1="561.20" x2="94.87" y2="564.20" stroke="#111" stroke-width="1.0" />
<line x1="104.44" y1="561.20" x2="104.44" y2="564.20" stroke="#111" stroke-width="1.0" />
<line x1="114.01" y1="561.20" x2="114.01" y2="564.20" stroke="#111" stroke-width="1.0" />
<line x1="123.58" y1="561.20" x2="123.58" y2="564.20" stroke="#111" stroke-width="1.0" />
<line x1="133.15" y1="561.20" x2="133.15" y2="564.20" stroke="#111" stroke-width="1.0" />
<line x1="142.72" y1="561.20" x2="142.72" y2="564.20" stroke="#111" stroke-width="1.0" />
<line x1="152.29" y1="561.20" x2="152.29" y2="564.20" stroke="#111" stroke-width="1.0" />
<line x1="161.86" y1="561.20" x2="161.86" y2="564.20" stroke="#111" stroke-width="1.0" />
<line x1="171.43" y1="561.20" x2="171.43" y2="564.20" stroke="#111" stroke-width="1.0" />
<line x1="181.00" y1="561.20" x2="181.00" y2="567.00" stroke="#111" stroke-width="1.1" />
<text x="181.00" y="580.60" font-size="11.5" text-anchor="middle" font-weight="normal" fill="#111" >100</text>
<line x1="190.57" y1="561.20" x2="190.57" y2="564.20" stroke="#111" stroke-width="1.0" />
<line x1="200.14" y1="561.20" x2="200.14" y2="564.20" stroke="#111" stroke-width="1.0" />
<line x1="209.71" y1="561.20" x2="209.71" y2="564.20" stroke="#111" stroke-width="1.0" />
<line x1="219.28" y1="561.20" x2="219.28" y2="564.20" stroke="#111" stroke-width="1.0" />
<line x1="228.85" y1="561.20" x2="228.85" y2="564.20" stroke="#111" stroke-width="1.0" />
<line x1="238.42" y1="561.20" x2="238.42" y2="564.20" stroke="#111" stroke-width="1.0" />
<line x1="247.99" y1="561.20" x2="247.99" y2="564.20" stroke="#111" stroke-width="1.0" />
<line x1="257.56" y1="561.20" x2="257.56" y2="564.20" stroke="#111" stroke-width="1.0" />
<line x1="267.13" y1="561.20" x2="267.13" y2="564.20" stroke="#111" stroke-width="1.0" />
<line x1="276.70" y1="561.20" x2="276.70" y2="567.00" stroke="#111" stroke-width="1.1" />
<text x="276.70" y="580.60" font-size="11.5" text-anchor="middle" font-weight="normal" fill="#111" >200</text>
<line x1="286.27" y1="561.20" x2="286.27" y2="564.20" stroke="#111" stroke-width="1.0" />
<line x1="295.84" y1="561.20" x2="295.84" y2="564.20" stroke="#111" stroke-width="1.0" />
<line x1="305.41" y1="561.20" x2="305.41" y2="564.20" stroke="#111" stroke-width="1.0" />
<line x1="314.98" y1="561.20" x2="314.98" y2="564.20" stroke="#111" stroke-width="1.0" />
<line x1="324.55" y1="561.20" x2="324.55" y2="564.20" stroke="#111" stroke-width="1.0" />
<line x1="334.12" y1="561.20" x2="334.12" y2="564.20" stroke="#111" stroke-width="1.0" />
<line x1="343.69" y1="561.20" x2="343.69" y2="564.20" stroke="#111" stroke-width="1.0" />
<line x1="353.26" y1="561.20" x2="353.26" y2="564.20" stroke="#111" stroke-width="1.0" />
<line x1="362.83" y1="561.20" x2="362.83" y2="564.20" stroke="#111" stroke-width="1.0" />
<line x1="372.40" y1="561.20" x2="372.40" y2="567.00" stroke="#111" stroke-width="1.1" />
<text x="372.40" y="580.60" font-size="11.5" text-anchor="middle" font-weight="normal" fill="#111" >300</text>
<line x1="381.97" y1="561.20" x2="381.97" y2="564.20" stroke="#111" stroke-width="1.0" />
<line x1="391.54" y1="561.20" x2="391.54" y2="564.20" stroke="#111" stroke-width="1.0" />
<line x1="401.11" y1="561.20" x2="401.11" y2="564.20" stroke="#111" stroke-width="1.0" />
<line x1="410.68" y1="561.20" x2="410.68" y2="564.20" stroke="#111" stroke-width="1.0" />
<line x1="420.25" y1="561.20" x2="420.25" y2="564.20" stroke="#111" stroke-width="1.0" />
<line x1="429.82" y1="561.20" x2="429.82" y2="564.20" stroke="#111" stroke-width="1.0" />
<line x1="439.39" y1="561.20" x2="439.39" y2="564.20" stroke="#111" stroke-width="1.0" />
<line x1="448.96" y1="561.20" x2="448.96" y2="564.20" stroke="#111" stroke-width="1.0" />
<line x1="458.53" y1="561.20" x2="458.53" y2="564.20" stroke="#111" stroke-width="1.0" />
<line x1="468.10" y1="561.20" x2="468.10" y2="567.00" stroke="#111" stroke-width="1.1" />
<text x="468.10" y="580.60" font-size="11.5" text-anchor="middle" font-weight="normal" fill="#111" >400</text>
<line x1="477.67" y1="561.20" x2="477.67" y2="564.20" stroke="#111" stroke-width="1.0" />
<line x1="487.24" y1="561.20" x2="487.24" y2="564.20" stroke="#111" stroke-width="1.0" />
<line x1="496.81" y1="561.20" x2="496.81" y2="564.20" stroke="#111" stroke-width="1.0" />
<line x1="506.38" y1="561.20" x2="506.38" y2="564.20" stroke="#111" stroke-width="1.0" />
<text transform="translate(52.00,515.00) rotate(-90)" font-size="12" text-anchor="middle" fill="#111">Hydrophilicity</text>
<text x="310.60" y="593.60" font-size="12" text-anchor="middle" font-weight="normal" fill="#111" >Residue</text>
<text x="5.60" y="615.80" font-size="12" text-anchor="start" font-weight="bold" fill="#000" >D</text>
<line x1="89.30" y1="660.80" x2="506.64" y2="660.80" stroke="#c4c4c4" stroke-width="0.8" stroke-dasharray="2.2 1.4"/>
<polyline fill="none" stroke="#f50a0a" stroke-width="1.6" stroke-linejoin="round" stroke-linecap="round" points="89.8,630.5 90.7,627.7 92.0,626.7 93.3,628.4 94.5,627.1 95.8,627.7 97.1,630.0 98.4,631.5 99.6,630.9 100.9,630.0 102.2,632.2 103.5,633.5 104.7,632.6 106.0,634.1 107.9,636.0 109.2,634.1 110.5,633.5 111.7,634.3 113.0,632.8 114.3,632.2 115.5,630.9 116.8,628.4 118.1,627.7 119.1,626.7 120.6,628.7 121.9,627.7 123.2,627.5 124.5,628.0 125.7,627.1 127.0,627.7 128.3,625.8 129.5,625.2 131.5,624.9 133.4,625.4 135.3,624.9 137.2,624.5 139.1,624.8 141.0,623.9 142.9,624.5 144.8,624.2 146.7,624.5 148.6,624.9 150.0,624.5 151.9,625.8 153.2,625.2 154.5,627.7 155.7,629.6 157.0,628.7 158.3,629.3 159.5,627.7 160.8,629.0 162.1,627.5 163.4,628.7 164.6,627.7 165.9,629.6 167.2,628.0 168.5,627.5 169.7,627.7 171.0,626.7 172.3,627.1 173.5,626.2 174.8,624.9 176.1,625.4 177.4,624.7 178.6,625.4 179.9,624.9 181.2,626.2 182.5,626.7 183.7,625.8 185.0,625.4 186.3,624.9 187.5,626.5 188.8,627.1 190.1,627.7 191.4,627.1 192.6,626.7 193.9,627.5 195.2,627.1 196.5,628.0 197.7,627.5 199.0,628.7 200.3,628.0 201.5,629.3 202.8,628.4 204.1,629.3 205.4,630.3 206.6,629.3 207.9,630.0 209.2,629.3 210.5,630.0 211.7,629.0 213.0,630.0 214.3,630.5 215.0,630.3 216.9,630.5 218.8,630.0 220.7,630.5 222.0,630.9 223.3,630.3 224.5,630.5 225.8,629.6 227.1,630.0 228.4,630.9 229.6,631.3 230.9,629.6 232.2,628.4 233.5,627.7 234.7,627.1 236.0,627.5 237.3,626.7 238.5,627.5 239.8,627.1 241.1,628.0 242.4,627.1 243.6,626.7 244.9,627.5 246.2,626.2 247.5,625.8 248.7,626.7 250.0,625.8 251.3,626.7 252.5,626.2 253.8,625.8 255.1,626.5 256.4,625.4 257.6,626.2 258.9,625.2 260.2,624.9 261.5,625.4 262.7,624.5 264.0,624.2 265.3,624.5 266.5,625.8 267.8,626.5 269.1,625.8 270.4,626.2 271.6,625.4 272.9,626.2 274.2,625.8 275.5,626.7 276.7,626.5 278.0,627.1 279.3,626.2 280.0,627.7 281.3,626.7 282.5,627.5 283.8,628.4 285.1,627.1 286.4,625.4 287.6,624.9 288.9,625.4 290.2,624.9 291.5,624.5 292.7,625.4 294.0,626.5 295.3,628.4 296.5,630.0 297.8,630.5 299.1,630.0 300.4,629.0 301.6,629.6 302.9,628.4 304.2,627.7 305.5,629.3 306.7,630.3 308.0,631.5 309.3,632.8 310.5,634.3 311.8,635.1 313.1,633.8 314.4,632.2 315.6,630.3 316.9,628.4 318.2,627.7 319.5,629.6 320.7,631.5 322.0,633.5 323.3,634.7 324.5,636.6 325.8,638.5 327.1,639.8 328.4,640.5 329.6,637.9 330.9,637.3 332.2,641.1 333.5,639.8 334.7,637.3 336.0,636.0 337.3,636.6 338.5,636.0 339.8,635.4 341.1,637.9 342.4,640.5 343.6,643.6 344.9,641.1 345.0,639.8 346.3,639.2 347.3,642.4 348.6,644.9 349.8,647.5 351.1,648.1 352.4,646.2 353.7,647.5 354.9,653.2 356.2,658.9 357.5,659.5 358.7,658.9 360.0,655.7 361.3,660.8 362.6,653.2 363.5,650.0 364.7,652.5 366.0,651.3 367.3,647.5 368.5,643.6 369.8,646.2 371.1,648.1 372.0,650.6 373.0,657.0 374.0,662.1 375.3,653.2 376.6,657.0 377.8,659.5 379.1,662.1 380.4,662.7 381.7,662.1 382.9,660.8 384.2,665.9 385.5,667.2 386.7,667.8 388.0,670.4 389.3,671.6 390.2,669.7 391.1,673.8 392.1,668.5 393.1,662.1 394.4,657.0 395.7,655.7 396.9,653.2 398.2,648.7 399.5,652.5 401.0,652.5 402.9,652.5 403.8,651.9 404.8,644.9 405.8,649.4 407.1,651.9 408.4,653.2 409.7,651.9 410.0,645.5 411.0,646.2 411.9,651.9 413.2,654.5 414.5,658.3 415.7,662.1 417.0,662.7 418.3,666.5 419.5,663.4 420.8,664.0 422.1,665.3 423.7,667.8 425.0,664.6 426.3,659.5 427.6,654.5 428.8,653.2 430.1,654.5 431.4,657.0 432.7,657.6 433.9,657.0 434.8,650.0 436.1,655.7 437.4,657.0 438.6,658.3 439.9,657.6 440.8,650.6 442.1,652.5 443.3,651.9 444.6,653.2 445.9,653.8 447.2,652.5 448.4,653.2 449.7,654.5 451.0,653.8 452.3,658.3 453.5,664.6 454.8,665.9 456.1,659.5 457.3,660.2 458.6,659.5 459.9,660.8 461.2,660.2 462.4,658.9 463.7,655.7 465.0,653.2 466.3,658.3 467.5,659.5 468.8,660.2 470.4,662.1 471.5,658.3 472.5,651.9 473.4,644.9 474.0,644.0 475.0,648.7 476.0,652.5 477.2,650.6 478.5,649.4 479.7,648.1 481.0,646.2 481.9,645.5 482.9,650.6 483.9,655.7 484.8,659.5 485.7,662.7 486.7,659.5 488.0,658.9 489.9,659.3 491.2,660.8 492.5,664.0 493.7,666.9 495.0,663.4 496.7,661.1 498.2,662.7 499.5,665.3 500.7,668.5 502.0,671.0 503.3,667.8 504.5,665.3 505.8,664.4 506.8,665.3 507.9,667.2"/>
<polyline fill="none" stroke="#0a0a0a" stroke-width="1.7" stroke-linejoin="round" stroke-linecap="round" points="89.8,623.7 91.1,624.2 92.0,627.1 94.5,634.1 97.7,643.0 100.9,651.9 103.5,657.0 106.0,667.2 108.5,676.1 110.5,682.5 111.5,684.4 113.0,681.2 114.9,674.8 116.8,667.2 118.7,660.8 120.6,653.2 123.2,648.1 125.1,642.4 127.0,636.6 128.9,631.5 130.8,627.7 132.7,626.2 135.9,625.8 139.7,625.2 143.5,624.5 146.1,624.3 148.6,624.5 150.0,625.2 152.5,626.7 155.1,628.4 157.6,629.3 160.2,630.3 162.7,630.9 165.3,631.3 169.1,631.5 172.9,631.3 175.5,631.2 179.3,631.5 183.1,631.8 185.0,630.9 186.9,629.0 188.8,627.5 190.7,626.7 192.6,626.8 194.5,627.7 196.5,630.9 198.4,633.5 200.9,636.0 203.5,637.7 205.4,638.2 207.3,640.2 208.3,640.5 209.8,638.5 211.7,635.4 213.6,630.9 215.0,627.1 216.5,625.4 218.2,626.5 220.1,629.0 222.0,630.9 223.3,631.3 225.2,629.6 227.1,627.5 229.0,625.2 230.5,623.7 234.1,623.5 246.8,623.4 265.9,623.3 285.0,623.4 292.7,623.4 305.5,623.4 318.2,623.4 322.0,623.9 324.5,624.9 325.8,627.7 327.1,634.1 328.4,643.0 329.6,653.2 330.9,663.4 332.2,673.5 333.2,682.5 334.1,687.5 335.4,688.2 337.3,686.9 339.2,685.3 341.1,684.0 342.6,683.5 343.6,686.3 344.9,688.8 345.0,689.5 346.9,688.2 348.8,684.4 350.7,678.0 352.6,674.8 354.2,672.3 355.8,673.5 357.7,677.4 359.3,680.5 360.9,681.2 362.2,682.5 363.5,686.3 364.7,682.5 366.0,677.4 367.3,674.8 369.2,674.2 371.1,674.8 372.4,674.8 373.6,679.9 374.9,685.0 376.2,689.5 377.5,692.0 378.7,688.8 380.0,685.0 381.3,683.7 383.2,684.4 385.1,685.6 386.4,688.8 387.6,693.9 388.9,697.1 390.2,695.8 391.5,694.5 392.7,692.6 394.0,685.0 395.3,676.1 396.5,672.9 397.8,672.5 399.7,673.5 401.0,675.5 402.3,683.7 403.5,691.4 404.8,694.5 406.1,695.2 407.4,688.8 408.6,678.6 409.9,668.5 410.0,671.0 411.3,660.8 412.5,651.9 413.8,645.5 415.1,642.4 417.0,641.5 418.3,643.6 419.5,648.7 420.8,655.7 422.1,663.4 423.4,669.7 424.6,674.8 425.9,678.0 427.8,678.6 429.7,678.4 431.6,679.9 432.9,683.7 434.2,690.1 435.5,694.5 436.7,695.8 438.6,695.4 440.5,694.5 442.5,690.7 444.4,686.3 446.3,681.2 447.5,676.1 448.8,675.5 450.1,677.4 451.4,679.9 452.6,682.5 453.9,683.7 455.2,688.8 456.5,692.0 457.7,692.6 459.0,690.1 460.3,685.0 461.5,678.6 462.8,671.0 464.1,662.1 465.4,653.2 466.6,644.3 467.9,636.6 469.2,632.8 470.2,630.3 472.1,627.7 474.0,626.2 475.9,627.7 477.8,628.4 479.7,629.3 481.6,630.0 482.9,629.3 484.4,628.0 486.1,629.6 488.0,630.9 489.9,632.8 491.2,635.4 492.5,638.5 493.7,641.1 495.0,643.6 496.3,645.5 498.2,647.5 500.1,650.6 502.0,655.1 503.3,659.5 504.5,665.9 505.8,673.5 507.1,681.2 508.0,686.3"/>
<line x1="89.30" y1="622.90" x2="89.30" y2="698.70" stroke="#111" stroke-width="1.1" />
<line x1="88.80" y1="698.20" x2="507.14" y2="698.20" stroke="#111" stroke-width="1.1" />
<line x1="83.70" y1="623.40" x2="89.30" y2="623.40" stroke="#111" stroke-width="1.1" />
<text x="80.70" y="627.40" font-size="11.5" text-anchor="end" font-weight="normal" fill="#111" >1.0</text>
<line x1="83.70" y1="660.80" x2="89.30" y2="660.80" stroke="#111" stroke-width="1.1" />
<text x="80.70" y="664.80" font-size="11.5" text-anchor="end" font-weight="normal" fill="#111" >0.5</text>
<line x1="83.70" y1="698.20" x2="89.30" y2="698.20" stroke="#111" stroke-width="1.1" />
<text x="80.70" y="702.20" font-size="11.5" text-anchor="end" font-weight="normal" fill="#111" >0.0</text>
<line x1="86.50" y1="690.72" x2="89.30" y2="690.72" stroke="#111" stroke-width="1.0" />
<line x1="86.50" y1="683.24" x2="89.30" y2="683.24" stroke="#111" stroke-width="1.0" />
<line x1="86.50" y1="675.76" x2="89.30" y2="675.76" stroke="#111" stroke-width="1.0" />
<line x1="86.50" y1="668.28" x2="89.30" y2="668.28" stroke="#111" stroke-width="1.0" />
<line x1="86.50" y1="653.32" x2="89.30" y2="653.32" stroke="#111" stroke-width="1.0" />
<line x1="86.50" y1="645.84" x2="89.30" y2="645.84" stroke="#111" stroke-width="1.0" />
<line x1="86.50" y1="638.36" x2="89.30" y2="638.36" stroke="#111" stroke-width="1.0" />
<line x1="86.50" y1="630.88" x2="89.30" y2="630.88" stroke="#111" stroke-width="1.0" />
<line x1="89.30" y1="698.20" x2="89.30" y2="704.00" stroke="#111" stroke-width="1.1" />
<text x="89.30" y="715.80" font-size="11.5" text-anchor="middle" font-weight="normal" fill="#111" >0</text>
<line x1="98.78" y1="698.20" x2="98.78" y2="701.20" stroke="#111" stroke-width="1.0" />
<line x1="108.27" y1="698.20" x2="108.27" y2="701.20" stroke="#111" stroke-width="1.0" />
<line x1="117.75" y1="698.20" x2="117.75" y2="701.20" stroke="#111" stroke-width="1.0" />
<line x1="127.24" y1="698.20" x2="127.24" y2="701.20" stroke="#111" stroke-width="1.0" />
<line x1="136.72" y1="698.20" x2="136.72" y2="701.20" stroke="#111" stroke-width="1.0" />
<line x1="146.21" y1="698.20" x2="146.21" y2="701.20" stroke="#111" stroke-width="1.0" />
<line x1="155.69" y1="698.20" x2="155.69" y2="701.20" stroke="#111" stroke-width="1.0" />
<line x1="165.18" y1="698.20" x2="165.18" y2="701.20" stroke="#111" stroke-width="1.0" />
<line x1="174.66" y1="698.20" x2="174.66" y2="701.20" stroke="#111" stroke-width="1.0" />
<line x1="184.15" y1="698.20" x2="184.15" y2="704.00" stroke="#111" stroke-width="1.1" />
<text x="184.15" y="715.80" font-size="11.5" text-anchor="middle" font-weight="normal" fill="#111" >100</text>
<line x1="193.63" y1="698.20" x2="193.63" y2="701.20" stroke="#111" stroke-width="1.0" />
<line x1="203.12" y1="698.20" x2="203.12" y2="701.20" stroke="#111" stroke-width="1.0" />
<line x1="212.61" y1="698.20" x2="212.61" y2="701.20" stroke="#111" stroke-width="1.0" />
<line x1="222.09" y1="698.20" x2="222.09" y2="701.20" stroke="#111" stroke-width="1.0" />
<line x1="231.57" y1="698.20" x2="231.57" y2="701.20" stroke="#111" stroke-width="1.0" />
<line x1="241.06" y1="698.20" x2="241.06" y2="701.20" stroke="#111" stroke-width="1.0" />
<line x1="250.55" y1="698.20" x2="250.55" y2="701.20" stroke="#111" stroke-width="1.0" />
<line x1="260.03" y1="698.20" x2="260.03" y2="701.20" stroke="#111" stroke-width="1.0" />
<line x1="269.51" y1="698.20" x2="269.51" y2="701.20" stroke="#111" stroke-width="1.0" />
<line x1="279.00" y1="698.20" x2="279.00" y2="704.00" stroke="#111" stroke-width="1.1" />
<text x="279.00" y="715.80" font-size="11.5" text-anchor="middle" font-weight="normal" fill="#111" >200</text>
<line x1="288.49" y1="698.20" x2="288.49" y2="701.20" stroke="#111" stroke-width="1.0" />
<line x1="297.97" y1="698.20" x2="297.97" y2="701.20" stroke="#111" stroke-width="1.0" />
<line x1="307.45" y1="698.20" x2="307.45" y2="701.20" stroke="#111" stroke-width="1.0" />
<line x1="316.94" y1="698.20" x2="316.94" y2="701.20" stroke="#111" stroke-width="1.0" />
<line x1="326.43" y1="698.20" x2="326.43" y2="701.20" stroke="#111" stroke-width="1.0" />
<line x1="335.91" y1="698.20" x2="335.91" y2="701.20" stroke="#111" stroke-width="1.0" />
<line x1="345.40" y1="698.20" x2="345.40" y2="701.20" stroke="#111" stroke-width="1.0" />
<line x1="354.88" y1="698.20" x2="354.88" y2="701.20" stroke="#111" stroke-width="1.0" />
<line x1="364.37" y1="698.20" x2="364.37" y2="701.20" stroke="#111" stroke-width="1.0" />
<line x1="373.85" y1="698.20" x2="373.85" y2="704.00" stroke="#111" stroke-width="1.1" />
<text x="373.85" y="715.80" font-size="11.5" text-anchor="middle" font-weight="normal" fill="#111" >300</text>
<line x1="383.34" y1="698.20" x2="383.34" y2="701.20" stroke="#111" stroke-width="1.0" />
<line x1="392.82" y1="698.20" x2="392.82" y2="701.20" stroke="#111" stroke-width="1.0" />
<line x1="402.31" y1="698.20" x2="402.31" y2="701.20" stroke="#111" stroke-width="1.0" />
<line x1="411.79" y1="698.20" x2="411.79" y2="701.20" stroke="#111" stroke-width="1.0" />
<line x1="421.28" y1="698.20" x2="421.28" y2="701.20" stroke="#111" stroke-width="1.0" />
<line x1="430.76" y1="698.20" x2="430.76" y2="701.20" stroke="#111" stroke-width="1.0" />
<line x1="440.25" y1="698.20" x2="440.25" y2="701.20" stroke="#111" stroke-width="1.0" />
<line x1="449.73" y1="698.20" x2="449.73" y2="701.20" stroke="#111" stroke-width="1.0" />
<line x1="459.22" y1="698.20" x2="459.22" y2="701.20" stroke="#111" stroke-width="1.0" />
<line x1="468.70" y1="698.20" x2="468.70" y2="704.00" stroke="#111" stroke-width="1.1" />
<text x="468.70" y="715.80" font-size="11.5" text-anchor="middle" font-weight="normal" fill="#111" >400</text>
<line x1="478.19" y1="698.20" x2="478.19" y2="701.20" stroke="#111" stroke-width="1.0" />
<line x1="487.67" y1="698.20" x2="487.67" y2="701.20" stroke="#111" stroke-width="1.0" />
<line x1="497.16" y1="698.20" x2="497.16" y2="701.20" stroke="#111" stroke-width="1.0" />
<line x1="506.64" y1="698.20" x2="506.64" y2="701.20" stroke="#111" stroke-width="1.0" />
<text transform="translate(51.50,659.20) rotate(-90)" font-size="12" text-anchor="middle" fill="#111">Disorder</text>
<text x="5.60" y="749.00" font-size="12" text-anchor="start" font-weight="bold" fill="#000" >E</text>
<path d="M43.6 837.3 C45.0 837.3 48.8 837.3 52.0 837.3 C55.2 837.3 60.6 837.1 62.7 837.3 C64.8 837.4 63.9 837.7 64.5 838.2 C65.1 838.7 65.8 839.9 66.4 840.4 C67.0 840.9 67.6 840.9 68.2 841.0 C68.8 841.1 69.2 841.1 70.0 840.9 C70.8 840.7 71.8 840.1 72.7 839.6 C73.6 839.1 74.3 838.0 75.5 837.6 C76.7 837.2 77.7 837.5 80.0 837.5 C82.3 837.5 87.1 837.8 89.1 837.6 C91.1 837.4 90.9 836.9 91.8 836.4 C92.7 835.9 93.6 834.6 94.5 834.5 C95.4 834.4 96.2 835.1 97.3 836.0 C98.4 836.9 99.7 838.5 100.9 839.6 C102.1 840.7 103.3 842.1 104.5 842.5 C105.7 842.9 106.8 842.1 108.2 841.8 C109.6 841.5 111.5 840.8 112.7 840.7 C113.9 840.7 114.6 841.7 115.5 841.5 C116.4 841.3 117.2 840.5 118.2 839.6 C119.2 838.8 120.6 837.4 121.8 836.4 C123.0 835.4 124.4 833.9 125.5 833.5 C126.6 833.1 127.1 833.3 128.2 833.8 C129.2 834.3 130.5 835.6 131.8 836.4 C133.1 837.2 135.1 838.3 136.0 838.7 C136.9 839.1 136.8 839.0 137.0 839.0" fill="none" stroke="#0a0a0a" stroke-width="1.8" stroke-linejoin="round" stroke-linecap="round"/>
<path d="M148.0 841.0 C148.5 840.5 150.0 839.2 150.9 838.2 C151.8 837.2 152.8 835.6 153.6 834.9 C154.4 834.2 155.2 834.0 156.0 834.2 C156.8 834.4 157.4 835.2 158.2 836.0 C159.0 836.8 160.2 838.4 160.9 839.1 C161.7 839.8 162.1 840.3 162.7 840.4 C163.3 840.5 163.9 840.0 164.5 839.6 C165.1 839.2 165.6 838.2 166.4 837.8 C167.2 837.4 168.3 837.4 169.1 837.3 C169.9 837.2 170.7 837.2 171.0 837.2" fill="none" stroke="#0a0a0a" stroke-width="1.8" stroke-linejoin="round" stroke-linecap="round"/>
<path d="M185.0 836.9 C186.7 836.9 191.9 836.9 195.0 836.9 C198.1 836.9 201.5 836.8 203.6 836.9 C205.7 837.0 206.2 837.3 207.3 837.8 C208.4 838.3 209.1 839.5 210.0 840.0 C210.9 840.5 211.8 840.8 212.7 840.9 C213.6 841.0 214.6 840.8 215.5 840.4 C216.4 840.0 217.3 838.7 218.2 838.2 C219.1 837.7 219.8 837.4 220.9 837.3 C222.0 837.1 223.7 837.3 225.0 837.3 C226.3 837.3 228.3 837.3 229.0 837.3" fill="none" stroke="#0a0a0a" stroke-width="1.8" stroke-linejoin="round" stroke-linecap="round"/>
<path d="M241.0 837.4 C241.5 837.5 243.5 837.9 244.0 838.0" fill="none" stroke="#0a0a0a" stroke-width="1.8" stroke-linejoin="round" stroke-linecap="round"/>
<path d="M252.0 840.4 C252.7 840.5 254.8 841.0 255.9 840.9 C257.0 840.8 257.5 840.3 258.6 839.6 C259.7 838.9 261.1 837.6 262.3 836.7 C263.5 835.9 264.7 835.0 265.9 834.5 C267.1 834.0 268.3 833.6 269.5 833.6 C270.7 833.6 272.0 833.7 273.2 834.2 C274.4 834.7 275.8 835.6 276.8 836.4 C277.9 837.2 278.6 838.0 279.5 839.1 C280.4 840.2 281.1 842.0 281.9 842.7 C282.7 843.5 283.4 843.6 284.1 843.6 C284.8 843.6 285.6 843.2 286.3 842.7 C287.0 842.2 287.3 841.3 288.1 840.9 C288.9 840.5 290.5 840.5 291.0 840.4" fill="none" stroke="#0a0a0a" stroke-width="1.8" stroke-linejoin="round" stroke-linecap="round"/>
<path d="M313.5 836.8 C313.9 836.7 315.6 836.1 316.0 836.0" fill="none" stroke="#0a0a0a" stroke-width="1.8" stroke-linejoin="round" stroke-linecap="round"/>
<path d="M324.0 834.2 C325.8 834.2 331.2 834.3 334.5 834.5 C337.8 834.7 340.9 835.2 343.6 835.5 C346.3 835.8 348.5 836.2 350.9 836.4 C353.3 836.6 356.8 836.8 358.0 836.9" fill="none" stroke="#0a0a0a" stroke-width="1.8" stroke-linejoin="round" stroke-linecap="round"/>
<path d="M371.3 837.3 C371.7 836.7 372.9 834.7 373.6 833.6 C374.3 832.5 374.9 831.2 375.5 830.5 C376.1 829.8 376.7 829.3 377.3 829.1 C377.9 828.9 378.5 829.0 379.1 829.5 C379.7 830.0 380.3 831.3 380.9 831.8 C381.5 832.3 381.9 832.6 382.7 832.7 C383.5 832.8 384.7 832.3 385.5 832.4 C386.3 832.5 386.9 832.8 387.6 833.1 C388.4 833.5 389.1 834.0 390.0 834.5 C390.9 835.0 392.5 835.8 393.0 836.0" fill="none" stroke="#0a0a0a" stroke-width="1.8" stroke-linejoin="round" stroke-linecap="round"/>
<path d="M406.2 836.0 C406.7 835.5 408.2 834.0 409.1 833.1 C410.0 832.2 410.9 831.4 411.8 830.9 C412.7 830.4 413.6 830.0 414.5 830.0 C415.4 830.0 416.2 830.6 417.3 830.9 C418.4 831.2 419.2 831.4 421.0 832.0 C422.8 832.6 426.8 834.0 428.0 834.4" fill="none" stroke="#0a0a0a" stroke-width="1.8" stroke-linejoin="round" stroke-linecap="round"/>
<path d="M441.0 834.4 C441.3 834.0 441.9 832.7 442.6 832.2 C443.3 831.7 441.3 831.3 445.0 831.4 C448.7 831.5 457.8 832.4 465.0 833.0 C472.2 833.6 484.2 834.7 488.0 835.0" fill="none" stroke="#0a0a0a" stroke-width="1.8" stroke-linejoin="round" stroke-linecap="round"/>
<path d="M503.0 836.0 C504.7 836.3 511.3 837.3 513.0 837.6" fill="none" stroke="#0a0a0a" stroke-width="1.8" stroke-linejoin="round" stroke-linecap="round"/>
<polyline fill="none" stroke="#7a7a7a" stroke-width="0.85" points="134.2,797.0 139.9,797.0 139.9,835.4"/>
<polyline fill="none" stroke="#7a7a7a" stroke-width="0.85" points="168.8,757.6 177.5,757.6 177.5,823.1"/>
<polyline fill="none" stroke="#7a7a7a" stroke-width="0.85" points="238.3,757.6 247.9,757.6 247.9,830.9"/>
<polyline fill="none" stroke="#7a7a7a" stroke-width="0.85" points="231.1,804.9 231.1,832.4"/>
<polyline fill="none" stroke="#7a7a7a" stroke-width="0.85" points="303.7,764.2 303.7,831.3"/>
<polyline fill="none" stroke="#7a7a7a" stroke-width="0.85" points="292.8,803.6 292.8,828.2"/>
<polyline fill="none" stroke="#7a7a7a" stroke-width="0.85" points="319.7,803.6 319.7,828.2"/>
<polyline fill="none" stroke="#7a7a7a" stroke-width="0.85" points="366.0,758.0 359.7,758.0 359.7,831.8"/>
<polyline fill="none" stroke="#7a7a7a" stroke-width="0.85" points="396.4,803.6 396.4,830.9"/>
<polyline fill="none" stroke="#7a7a7a" stroke-width="0.85" points="437.2,758.0 430.5,758.0 430.5,829.0"/>
<polyline fill="none" stroke="#7a7a7a" stroke-width="0.85" points="494.3,804.9 494.3,823.0"/>
<path d="M136.1 835.4 L142.3 835.4 L142.3 829.3 L148.8 841.0 L142.3 852.7 L142.3 846.6 L136.1 846.6 Z" fill="#85a5df" stroke="#44598a" stroke-width="0.8" stroke-linejoin="miter"/>
<path d="M228.2 832.4 L234.5 832.4 L234.5 826.3 L241.9 837.6 L234.5 848.9 L234.5 842.8 L228.2 842.8 Z" fill="#85a5df" stroke="#44598a" stroke-width="0.8" stroke-linejoin="miter"/>
<path d="M300.3 831.4 L307.4 831.4 L307.4 825.5 L314.5 836.8 L307.4 848.1 L307.4 842.2 L300.3 842.2 Z" fill="#85a5df" stroke="#44598a" stroke-width="0.8" stroke-linejoin="miter"/>
<path d="M357.3 831.9 L364.2 831.9 L364.2 826.4 L371.8 837.3 L364.2 848.2 L364.2 842.7 L357.3 842.7 Z" fill="#85a5df" stroke="#44598a" stroke-width="0.8" stroke-linejoin="miter"/>
<path d="M392.2 830.8 L399.1 830.8 L399.1 825.1 L406.7 836.2 L399.1 847.3 L399.1 841.6 L392.2 841.6 Z" fill="#85a5df" stroke="#44598a" stroke-width="0.8" stroke-linejoin="miter"/>
<path d="M427.4 829.0 L434.4 829.0 L434.4 823.0 L441.4 834.5 L434.4 846.0 L434.4 840.0 L427.4 840.0 Z" fill="#85a5df" stroke="#44598a" stroke-width="0.8" stroke-linejoin="miter"/>
<rect x="243.50" y="830.90" width="9.00" height="16.60" fill="#ffd966" stroke="#4a4020" stroke-width="0.9" />
<rect x="290.50" y="828.20" width="9.10" height="16.30" fill="#ffd966" stroke="#4a4020" stroke-width="0.9" />
<rect x="315.40" y="828.20" width="9.20" height="16.10" fill="#ffd966" stroke="#4a4020" stroke-width="0.9" />
<path d="M172.0 823.1 L183.4 823.1 A2.9 14.3 0 0 1 183.4 851.7 L172.0 851.7 A2.9 14.3 0 0 1 172.0 823.1 Z" fill="#a7dd89" stroke="#3f5230" stroke-width="0.9"/>
<ellipse cx="183.4" cy="837.4" rx="2.9" ry="14.3" fill="#b6e49c" stroke="#3f5230" stroke-width="0.9"/>
<path d="M489.9 823.0 L500.5 823.0 A2.9 14.0 0 0 1 500.5 851.0 L489.9 851.0 A2.9 14.0 0 0 1 489.9 823.0 Z" fill="#a7dd89" stroke="#3f5230" stroke-width="0.9"/>
<ellipse cx="500.5" cy="837.0" rx="2.9" ry="14.0" fill="#b6e49c" stroke="#3f5230" stroke-width="0.9"/>
<text x="82.90" y="757.70" font-size="7.3" text-anchor="end" fill="#111">114</text>
<text x="83.20" y="761.60" font-size="11" fill="#111" textLength="74.00" lengthAdjust="spacingAndGlyphs">LEDEAAGHVT</text>
<text x="157.50" y="757.70" font-size="7.3" fill="#111">123</text>
<text x="71.20" y="798.00" font-size="7.3" text-anchor="end" fill="#111">86</text>
<text x="71.50" y="801.90" font-size="11" fill="#111" textLength="55.00" lengthAdjust="spacingAndGlyphs">GKQAAAQ</text>
<text x="126.80" y="798.00" font-size="7.3" fill="#111">92</text>
<text x="208.40" y="757.70" font-size="7.3" text-anchor="end" fill="#111">175</text>
<text x="208.70" y="761.60" font-size="11" fill="#111" textLength="17.30" lengthAdjust="spacingAndGlyphs">T-S</text>
<text x="226.30" y="757.70" font-size="7.3" fill="#111">184</text>
<text x="188.60" y="798.40" font-size="7.3" text-anchor="end" fill="#111">161</text>
<text x="188.90" y="802.30" font-size="11" fill="#111" textLength="49.10" lengthAdjust="spacingAndGlyphs">GQKGQA</text>
<text x="238.30" y="798.40" font-size="7.3" fill="#111">166</text>
<text x="275.30" y="757.70" font-size="7.3" text-anchor="end" fill="#111">224</text>
<text x="275.60" y="761.60" font-size="11" fill="#111" textLength="52.20" lengthAdjust="spacingAndGlyphs">KKVAVVR</text>
<text x="328.10" y="757.70" font-size="7.3" fill="#111">230</text>
<text x="274.10" y="798.00" font-size="7.3" text-anchor="end" fill="#111">216</text>
<text x="274.40" y="801.90" font-size="11" fill="#111" textLength="17.80" lengthAdjust="spacingAndGlyphs">P-P</text>
<text x="292.50" y="798.00" font-size="7.3" fill="#111">223</text>
<text x="319.90" y="798.00" font-size="7.3" text-anchor="end" fill="#111">232</text>
<text x="320.20" y="801.90" font-size="11" fill="#111" textLength="17.80" lengthAdjust="spacingAndGlyphs">P-A</text>
<text x="338.30" y="798.00" font-size="7.3" fill="#111">239</text>
<text x="377.40" y="757.70" font-size="7.3" text-anchor="end" fill="#111">274</text>
<text x="377.70" y="761.60" font-size="11" fill="#111" textLength="17.00" lengthAdjust="spacingAndGlyphs">K-L</text>
<text x="395.00" y="757.70" font-size="7.3" fill="#111">284</text>
<text x="389.30" y="798.00" font-size="7.3" text-anchor="end" fill="#111">305</text>
<text x="389.60" y="801.90" font-size="11" fill="#111" textLength="19.60" lengthAdjust="spacingAndGlyphs">S-D</text>
<text x="409.50" y="798.00" font-size="7.3" fill="#111">315</text>
<text x="448.50" y="757.70" font-size="7.3" text-anchor="end" fill="#111">336</text>
<text x="448.80" y="761.60" font-size="11" fill="#111" textLength="20.80" lengthAdjust="spacingAndGlyphs">Q-D</text>
<text x="469.90" y="757.70" font-size="7.3" fill="#111">345</text>
<text x="460.00" y="798.30" font-size="7.3" text-anchor="end" fill="#111">428</text>
<text x="460.30" y="802.20" font-size="11" fill="#111" textLength="71.40" lengthAdjust="spacingAndGlyphs">LADEVSASLA</text>
<text x="532.00" y="798.30" font-size="7.3" fill="#111">437</text>
</svg>
</body></html>
